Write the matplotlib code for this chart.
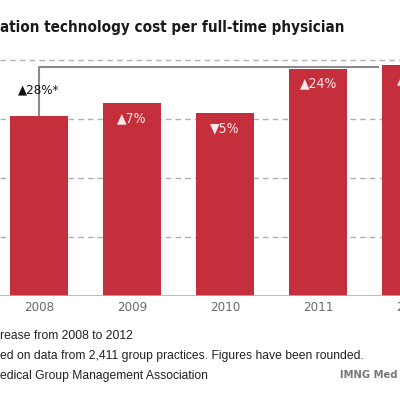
import matplotlib.pyplot as plt
import numpy as np

years = ['2008', '2009', '2010', '2011', '2012']
cost = [30.5, 32.7, 31.0, 38.5, 39.2]  # thousand dollars (est.)
change_labels = [None, '\u25b27%', '\u25bc5%', '\u25b224%', '\u25b22%']
total_label = '\u25b228%*'
grid_vals = [10, 20, 30, 40]

title = 'ation technology cost per full-time physician'
notes = ['rease from 2008 to 2012',
         'ed on data from 2,411 group practices. Figures have been rounded.',
         'edical Group Management Association']
credit = 'IMNG Med'

bar_red = '#C52F3B'
narrow = dict(family='DejaVu Sans', fontstretch='condensed')

fig = plt.figure(figsize=(4, 4), dpi=100, facecolor='white')
ax = fig.add_axes([0, 0.26, 1, 0.615])

x = np.arange(len(years))
ax.bar(x, cost, width=0.62, color=bar_red, zorder=3)

for g in grid_vals:
    ax.axhline(g, color='#b0b0b0', lw=1, ls=(0, (4, 3)), zorder=1)
ax.axhline(0, color='#b0b0b0', lw=1.2, zorder=4)

ax.set_xlim(-0.42, 3.88)
ax.set_ylim(0, 41.7)
ax.axis('off')

# bracket from 2008 to 2012
top = 38.9
ax.plot([x[0], x[0], x[4] - 0.36], [cost[0], top, top],
        color='#8a8a8a', lw=1.5, zorder=2, clip_on=False)
ax.text(x[0] - 0.23, 35.0, total_label, ha='left', va='center',
        fontsize=9.5, color='#111111', **narrow)

for i, lab in enumerate(change_labels):
    if lab is None:
        continue
    ax.text(x[i], cost[i] - 2.5, lab, ha='center', va='center',
            fontsize=10, color='#fbe9ea', zorder=5, clip_on=False, **narrow)

for i, yr in enumerate(years):
    ax.text(x[i], -1.9, yr, ha='center', va='center', fontsize=9.5,
            color='#6a6a6a', clip_on=False, **narrow)

fig.text(0.0, 0.932, title, ha='left', va='center', fontsize=10.9,
         fontweight='bold', color='#1a1a1a', **narrow)

for k, line in enumerate(notes):
    fig.text(0.0, 0.16 - k * 0.05, line, ha='left', va='center',
             fontsize=8.7, color='#222222', family='Liberation Sans')

fig.text(0.995, 0.062, credit, ha='right', va='center', fontsize=8,
         color='#777777', fontweight='bold', **narrow)

fig.savefig('out.png', dpi=100, facecolor='white')
